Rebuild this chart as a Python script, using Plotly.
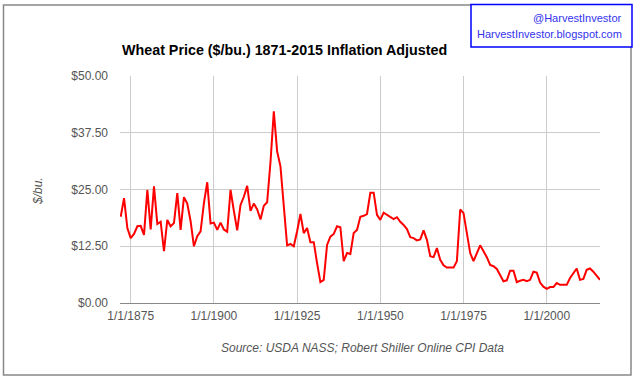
import plotly.graph_objects as go

# ---- data ----
years = list(range(1871, 2016))
price = [
    19.0, 23.1, 16.5, 14.3, 15.2, 16.9, 17.0, 15.0, 24.9, 16.2,
    25.7, 17.4, 17.9, 11.4, 18.3, 16.9, 17.6, 24.2, 16.1, 23.3,
    21.9, 18.0, 12.5, 14.7, 15.8, 22.0, 26.6, 17.5, 17.7, 16.1,
    17.7, 16.2, 15.7, 24.9, 20.3, 16.0, 21.6, 23.4, 25.8, 20.3,
    21.9, 20.6, 18.4, 21.4, 22.2, 31.0, 42.2, 33.4, 30.1, 21.0,
    12.7, 13.0, 12.5, 15.8, 19.6, 15.4, 16.5, 13.4, 13.4, 8.8,
    4.6, 5.1, 12.8, 14.6, 15.2, 16.9, 16.7, 9.2, 11.0, 10.8,
    15.4, 16.1, 19.0, 19.2, 19.6, 24.3, 24.3, 19.4, 18.3, 19.9,
    19.4, 18.9, 18.5, 18.9, 17.9, 17.2, 16.3, 14.5, 14.3, 13.8,
    14.0, 16.0, 13.9, 10.3, 10.1, 12.1, 9.5, 8.3, 7.8, 7.8,
    7.8, 9.2, 20.6, 19.8, 15.4, 11.0, 9.2, 11.0, 12.7, 11.4,
    10.1, 8.4, 8.1, 7.5, 6.3, 4.8, 5.0, 7.1, 7.1, 4.6,
    4.9, 5.1, 4.8, 5.1, 6.9, 6.7, 4.5, 3.6, 3.1, 3.5,
    3.5, 4.4, 4.0, 4.0, 4.0, 5.5, 6.7, 7.6, 5.1, 5.3,
    7.3, 7.6, 6.9, 6.0, 5.1,
]
tick_years = [1875, 1900, 1925, 1950, 1975, 2000]
tick_labels = ["1/1/1875", "1/1/1900", "1/1/1925", "1/1/1950", "1/1/1975", "1/1/2000"]
y_ticks = [0, 12.5, 25, 37.5, 50]
y_tick_labels = ["$0.00", "$12.50", "$25.00", "$37.50", "$50.00"]

title_text = "Wheat Price ($/bu.) 1871-2015 Inflation Adjusted"
source_text = "Source: USDA NASS; Robert Shiller Online CPI Data"
handle_text = "@HarvestInvestor"
blog_text = "HarvestInvestor.blogspot.com"

# ---- layout geometry (pixels) ----
W, H = 640, 381
L, R, T, B = 120, 40, 76, 78
PW, PH = W - L - R, H - T - B


def px(x):
    return (x - L) / PW


def py(y):
    return (H - B - y) / PH


FONT = "Liberation Sans, Arial, sans-serif"

dates = [f"{y}-12-31" for y in years]

fig = go.Figure()
fig.add_trace(go.Scatter(
    x=dates, y=price, mode="lines",
    line=dict(color="#ff0000", width=2),
    hoverinfo="skip", showlegend=False,
))

fig.update_layout(
    width=W, height=H,
    margin=dict(l=L, r=R, t=T, b=B),
    paper_bgcolor="white", plot_bgcolor="white",
    font=dict(family=FONT, size=12, color="#555555"),
    xaxis=dict(
        type="date",
        range=["1871-10-15", "2016-01-01"],
        tickvals=[f"{y}-01-01" for y in tick_years],
        ticktext=tick_labels,
        showgrid=True, gridcolor="#cccccc", gridwidth=1,
        showline=True, linecolor="#888888", linewidth=1,
        ticks="", zeroline=False,
        tickfont=dict(family=FONT, size=12, color="#555555"),
        ticklabelstandoff=2,
        fixedrange=True,
    ),
    yaxis=dict(
        range=[0, 50],
        tickvals=y_ticks,
        ticktext=y_tick_labels,
        showgrid=True, gridcolor="#cccccc", gridwidth=1,
        zeroline=False, showline=False, ticks="",
        tickfont=dict(family=FONT, size=12, color="#555555"),
        ticklabelstandoff=11,
        fixedrange=True,
    ),
    shapes=[
        dict(type="rect", xref="paper", yref="paper",
             x0=px(3.5), x1=px(631), y0=py(375), y1=py(5),
             line=dict(color="#888888", width=1.5), layer="below"),
        dict(type="rect", xref="paper", yref="paper",
             x0=px(471), x1=px(632), y0=py(47), y1=py(4.5),
             line=dict(color="#0000ff", width=1.5), fillcolor="white"),
    ],
    annotations=[
        dict(text="<b>" + title_text + "</b>", xref="paper", yref="paper",
             x=px(120), y=py(50), xanchor="left", yanchor="middle",
             showarrow=False, font=dict(family=FONT, size=14.3, color="#000000")),
        dict(text=handle_text, xref="paper", yref="paper",
             x=px(624), y=py(18), xanchor="right", yanchor="middle",
             showarrow=False, font=dict(family=FONT, size=11, color="#3333ee")),
        dict(text=blog_text, xref="paper", yref="paper",
             x=px(624), y=py(33.5), xanchor="right", yanchor="middle",
             showarrow=False, font=dict(family=FONT, size=11, color="#3333ee")),
        dict(text="<i>" + source_text + "</i>", xref="paper", yref="paper",
             x=px(362), y=py(348), xanchor="center", yanchor="middle",
             showarrow=False, font=dict(family=FONT, size=12, color="#555555")),
        dict(text="<i>$/bu.</i>", xref="paper", yref="paper",
             x=px(38), y=py(191), xanchor="center", yanchor="middle",
             textangle=-90, showarrow=False,
             font=dict(family=FONT, size=12, color="#555555")),
    ],
)

fig.write_html("out.html", config={"displayModeBar": False},
               post_script="document.body.style.margin='0';")
